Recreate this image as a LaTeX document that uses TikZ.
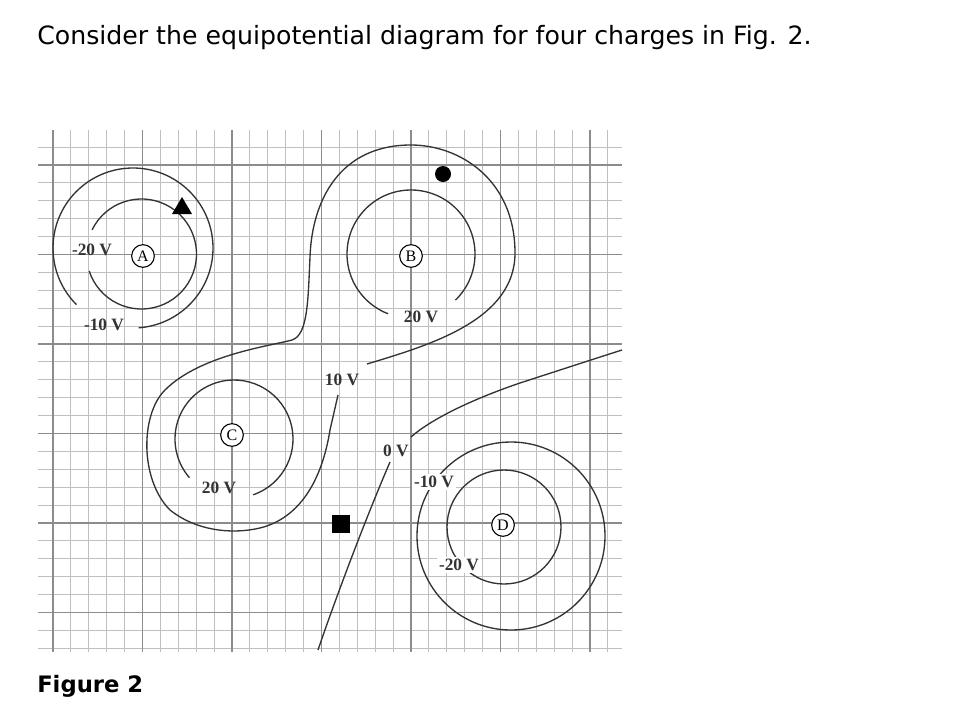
\documentclass[tikz,border=0pt]{standalone}
\usepackage{fontspec}
\setmainfont{DejaVu Sans}
\newfontfamily\lblfont{Liberation Serif}
\begin{document}
\begin{tikzpicture}[x=0.75pt,y=-0.75pt,
  charge/.style={circle,draw,line width=0.8pt,inner sep=0pt,minimum size=17pt,fill=white,font=\lblfont\fontsize{12}{12}\selectfont},
  vlabel/.style={font=\lblfont\fontsize{13}{13}\selectfont\bfseries,text=black!80,inner sep=1.5pt,fill=white},
  contour/.style={line width=1pt,black!80}]
\useasboundingbox (0,0) rectangle (960,714);
\fill[white] (0,0) rectangle (960,714);
\node[anchor=west,font=\fontsize{18.9}{20}\selectfont,inner sep=0pt] (title) at (37,38) {Consider the equipotential diagram for four charges in Fig. 2.};
\node[anchor=west,font=\fontsize{17}{18}\selectfont\bfseries,inner sep=0pt] (fig) at (37,686) {Figure 2};
% grid
\begin{scope}
\clip (38,130) rectangle (622,652);
\foreach \i in {-1,...,33} {
  \draw[black!25,line width=0.8pt] ({53+\i*17.9},130) -- ({53+\i*17.9},652);
  \draw[black!25,line width=0.8pt] (38,{165+\i*17.9}) -- (622,{165+\i*17.9});
}
\foreach \i in {0,...,6} {
  \draw[black!45,line width=1.1pt] ({53+\i*89.5},130) -- ({53+\i*89.5},652);
  \draw[black!45,line width=1.1pt] (38,{165+\i*89.5}) -- (622,{165+\i*89.5});
}
\end{scope}
% A
\draw[contour] (133,248) ++(135:80) arc[start angle=135,end angle=446,radius=80];
\draw[contour] (141.5,254) ++(206:55) arc[start angle=206,end angle=522,radius=55];
\node[charge] (A) at (143,256) {A};
\node[vlabel,fill=none] (lA1) at (92,250) {-20 V};
\node[vlabel,fill=none] (lA2) at (104,325) {-10 V};
\fill (172,214) -- (192,214) -- (182,197) -- cycle;
% B
\draw[contour] (411,254) ++(46:64) arc[start angle=46,end angle=-249,radius=64];
\node[charge] (B) at (411,256) {B};
\node[vlabel,fill=none] (lB) at (421,317) {20 V};
\fill (443,174) circle (8);
% C
\draw[contour] (234,439) ++(71:59) arc[start angle=71,end angle=-221,radius=59];
\node[charge] (C) at (232,435) {C};
\node[vlabel,fill=none] (lC) at (219,488) {20 V};
% 10 V contour
\draw[contour] (367,364) .. controls (430,345) and (515,320) .. (515,253)
  .. controls (515,180) and (460,145) .. (411,145)
  .. controls (340,145) and (312,200) .. (310,257)
  .. controls (308,300) and (308,335) .. (292,340)
  .. controls (270,346) and (200,355) .. (165,390)
  .. controls (140,415) and (140,480) .. (170,510)
  .. controls (195,530) and (230,535) .. (260,528)
  .. controls (300,518) and (322,480) .. (330,430)
  -- (338,395);
\node[vlabel,fill=none] (l10) at (342,380) {10 V};
% 0 V contour
\draw[contour] (318,650) .. controls (335,600) and (365,520) .. (390,462);
\draw[contour] (411,437) .. controls (430,420) and (470,400) .. (520,383)
  .. controls (560,370) and (600,357) .. (622,350);
\node[vlabel,fill=none] (l0) at (396,451) {0 V};
% D
\draw[contour] (511,536) circle (94);
\draw[contour] (504,527) circle (57);
\node[charge] (D) at (503,525) {D};
\node[vlabel] (lD1) at (434,482) {-10 V};
\node[vlabel] (lD2) at (459,565) {-20 V};
\fill (332,515) rectangle (350,533);
\end{tikzpicture}
\end{document}
